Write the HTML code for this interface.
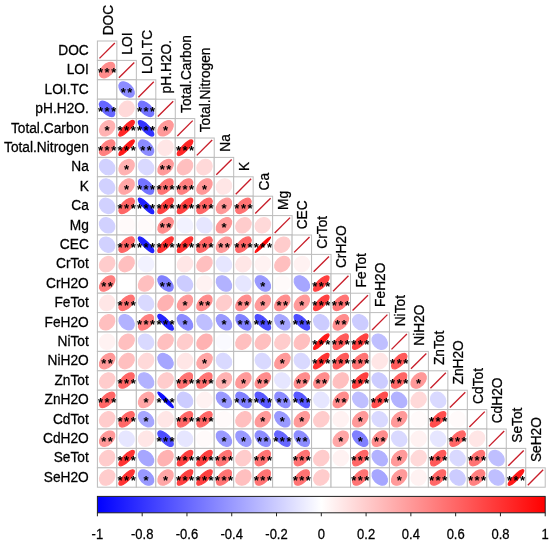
<!DOCTYPE html><html><head><meta charset="utf-8"><style>html,body{margin:0;padding:0;background:#fff;width:550px;height:545px;overflow:hidden}svg{display:block;filter:blur(0.35px)}text{font-family:"Liberation Sans",Arial,sans-serif}</style></head><body>
<svg width="550" height="545" viewBox="0 0 550 545">
<rect width="550" height="545" fill="#fff"/>
<g fill="#fff" stroke="#bcbcbc" stroke-width="1"><rect x="97.40" y="41.00" width="19.47" height="19.40"/><rect x="97.40" y="60.40" width="19.47" height="19.40"/><rect x="116.87" y="60.40" width="19.47" height="19.40"/><rect x="97.40" y="79.80" width="19.47" height="19.40"/><rect x="116.87" y="79.80" width="19.47" height="19.40"/><rect x="136.34" y="79.80" width="19.47" height="19.40"/><rect x="97.40" y="99.20" width="19.47" height="19.40"/><rect x="116.87" y="99.20" width="19.47" height="19.40"/><rect x="136.34" y="99.20" width="19.47" height="19.40"/><rect x="155.81" y="99.20" width="19.47" height="19.40"/><rect x="97.40" y="118.60" width="19.47" height="19.40"/><rect x="116.87" y="118.60" width="19.47" height="19.40"/><rect x="136.34" y="118.60" width="19.47" height="19.40"/><rect x="155.81" y="118.60" width="19.47" height="19.40"/><rect x="175.28" y="118.60" width="19.47" height="19.40"/><rect x="97.40" y="138.00" width="19.47" height="19.40"/><rect x="116.87" y="138.00" width="19.47" height="19.40"/><rect x="136.34" y="138.00" width="19.47" height="19.40"/><rect x="155.81" y="138.00" width="19.47" height="19.40"/><rect x="175.28" y="138.00" width="19.47" height="19.40"/><rect x="194.75" y="138.00" width="19.47" height="19.40"/><rect x="97.40" y="157.40" width="19.47" height="19.40"/><rect x="116.87" y="157.40" width="19.47" height="19.40"/><rect x="136.34" y="157.40" width="19.47" height="19.40"/><rect x="155.81" y="157.40" width="19.47" height="19.40"/><rect x="175.28" y="157.40" width="19.47" height="19.40"/><rect x="194.75" y="157.40" width="19.47" height="19.40"/><rect x="214.22" y="157.40" width="19.47" height="19.40"/><rect x="97.40" y="176.80" width="19.47" height="19.40"/><rect x="116.87" y="176.80" width="19.47" height="19.40"/><rect x="136.34" y="176.80" width="19.47" height="19.40"/><rect x="155.81" y="176.80" width="19.47" height="19.40"/><rect x="175.28" y="176.80" width="19.47" height="19.40"/><rect x="194.75" y="176.80" width="19.47" height="19.40"/><rect x="214.22" y="176.80" width="19.47" height="19.40"/><rect x="233.69" y="176.80" width="19.47" height="19.40"/><rect x="97.40" y="196.20" width="19.47" height="19.40"/><rect x="116.87" y="196.20" width="19.47" height="19.40"/><rect x="136.34" y="196.20" width="19.47" height="19.40"/><rect x="155.81" y="196.20" width="19.47" height="19.40"/><rect x="175.28" y="196.20" width="19.47" height="19.40"/><rect x="194.75" y="196.20" width="19.47" height="19.40"/><rect x="214.22" y="196.20" width="19.47" height="19.40"/><rect x="233.69" y="196.20" width="19.47" height="19.40"/><rect x="253.16" y="196.20" width="19.47" height="19.40"/><rect x="97.40" y="215.60" width="19.47" height="19.40"/><rect x="116.87" y="215.60" width="19.47" height="19.40"/><rect x="136.34" y="215.60" width="19.47" height="19.40"/><rect x="155.81" y="215.60" width="19.47" height="19.40"/><rect x="175.28" y="215.60" width="19.47" height="19.40"/><rect x="194.75" y="215.60" width="19.47" height="19.40"/><rect x="214.22" y="215.60" width="19.47" height="19.40"/><rect x="233.69" y="215.60" width="19.47" height="19.40"/><rect x="253.16" y="215.60" width="19.47" height="19.40"/><rect x="272.63" y="215.60" width="19.47" height="19.40"/><rect x="97.40" y="235.00" width="19.47" height="19.40"/><rect x="116.87" y="235.00" width="19.47" height="19.40"/><rect x="136.34" y="235.00" width="19.47" height="19.40"/><rect x="155.81" y="235.00" width="19.47" height="19.40"/><rect x="175.28" y="235.00" width="19.47" height="19.40"/><rect x="194.75" y="235.00" width="19.47" height="19.40"/><rect x="214.22" y="235.00" width="19.47" height="19.40"/><rect x="233.69" y="235.00" width="19.47" height="19.40"/><rect x="253.16" y="235.00" width="19.47" height="19.40"/><rect x="272.63" y="235.00" width="19.47" height="19.40"/><rect x="292.10" y="235.00" width="19.47" height="19.40"/><rect x="97.40" y="254.40" width="19.47" height="19.40"/><rect x="116.87" y="254.40" width="19.47" height="19.40"/><rect x="136.34" y="254.40" width="19.47" height="19.40"/><rect x="155.81" y="254.40" width="19.47" height="19.40"/><rect x="175.28" y="254.40" width="19.47" height="19.40"/><rect x="194.75" y="254.40" width="19.47" height="19.40"/><rect x="214.22" y="254.40" width="19.47" height="19.40"/><rect x="233.69" y="254.40" width="19.47" height="19.40"/><rect x="253.16" y="254.40" width="19.47" height="19.40"/><rect x="272.63" y="254.40" width="19.47" height="19.40"/><rect x="292.10" y="254.40" width="19.47" height="19.40"/><rect x="311.57" y="254.40" width="19.47" height="19.40"/><rect x="97.40" y="273.80" width="19.47" height="19.40"/><rect x="116.87" y="273.80" width="19.47" height="19.40"/><rect x="136.34" y="273.80" width="19.47" height="19.40"/><rect x="155.81" y="273.80" width="19.47" height="19.40"/><rect x="175.28" y="273.80" width="19.47" height="19.40"/><rect x="194.75" y="273.80" width="19.47" height="19.40"/><rect x="214.22" y="273.80" width="19.47" height="19.40"/><rect x="233.69" y="273.80" width="19.47" height="19.40"/><rect x="253.16" y="273.80" width="19.47" height="19.40"/><rect x="272.63" y="273.80" width="19.47" height="19.40"/><rect x="292.10" y="273.80" width="19.47" height="19.40"/><rect x="311.57" y="273.80" width="19.47" height="19.40"/><rect x="331.04" y="273.80" width="19.47" height="19.40"/><rect x="97.40" y="293.20" width="19.47" height="19.40"/><rect x="116.87" y="293.20" width="19.47" height="19.40"/><rect x="136.34" y="293.20" width="19.47" height="19.40"/><rect x="155.81" y="293.20" width="19.47" height="19.40"/><rect x="175.28" y="293.20" width="19.47" height="19.40"/><rect x="194.75" y="293.20" width="19.47" height="19.40"/><rect x="214.22" y="293.20" width="19.47" height="19.40"/><rect x="233.69" y="293.20" width="19.47" height="19.40"/><rect x="253.16" y="293.20" width="19.47" height="19.40"/><rect x="272.63" y="293.20" width="19.47" height="19.40"/><rect x="292.10" y="293.20" width="19.47" height="19.40"/><rect x="311.57" y="293.20" width="19.47" height="19.40"/><rect x="331.04" y="293.20" width="19.47" height="19.40"/><rect x="350.51" y="293.20" width="19.47" height="19.40"/><rect x="97.40" y="312.60" width="19.47" height="19.40"/><rect x="116.87" y="312.60" width="19.47" height="19.40"/><rect x="136.34" y="312.60" width="19.47" height="19.40"/><rect x="155.81" y="312.60" width="19.47" height="19.40"/><rect x="175.28" y="312.60" width="19.47" height="19.40"/><rect x="194.75" y="312.60" width="19.47" height="19.40"/><rect x="214.22" y="312.60" width="19.47" height="19.40"/><rect x="233.69" y="312.60" width="19.47" height="19.40"/><rect x="253.16" y="312.60" width="19.47" height="19.40"/><rect x="272.63" y="312.60" width="19.47" height="19.40"/><rect x="292.10" y="312.60" width="19.47" height="19.40"/><rect x="311.57" y="312.60" width="19.47" height="19.40"/><rect x="331.04" y="312.60" width="19.47" height="19.40"/><rect x="350.51" y="312.60" width="19.47" height="19.40"/><rect x="369.98" y="312.60" width="19.47" height="19.40"/><rect x="97.40" y="332.00" width="19.47" height="19.40"/><rect x="116.87" y="332.00" width="19.47" height="19.40"/><rect x="136.34" y="332.00" width="19.47" height="19.40"/><rect x="155.81" y="332.00" width="19.47" height="19.40"/><rect x="175.28" y="332.00" width="19.47" height="19.40"/><rect x="194.75" y="332.00" width="19.47" height="19.40"/><rect x="214.22" y="332.00" width="19.47" height="19.40"/><rect x="233.69" y="332.00" width="19.47" height="19.40"/><rect x="253.16" y="332.00" width="19.47" height="19.40"/><rect x="272.63" y="332.00" width="19.47" height="19.40"/><rect x="292.10" y="332.00" width="19.47" height="19.40"/><rect x="311.57" y="332.00" width="19.47" height="19.40"/><rect x="331.04" y="332.00" width="19.47" height="19.40"/><rect x="350.51" y="332.00" width="19.47" height="19.40"/><rect x="369.98" y="332.00" width="19.47" height="19.40"/><rect x="389.45" y="332.00" width="19.47" height="19.40"/><rect x="97.40" y="351.40" width="19.47" height="19.40"/><rect x="116.87" y="351.40" width="19.47" height="19.40"/><rect x="136.34" y="351.40" width="19.47" height="19.40"/><rect x="155.81" y="351.40" width="19.47" height="19.40"/><rect x="175.28" y="351.40" width="19.47" height="19.40"/><rect x="194.75" y="351.40" width="19.47" height="19.40"/><rect x="214.22" y="351.40" width="19.47" height="19.40"/><rect x="233.69" y="351.40" width="19.47" height="19.40"/><rect x="253.16" y="351.40" width="19.47" height="19.40"/><rect x="272.63" y="351.40" width="19.47" height="19.40"/><rect x="292.10" y="351.40" width="19.47" height="19.40"/><rect x="311.57" y="351.40" width="19.47" height="19.40"/><rect x="331.04" y="351.40" width="19.47" height="19.40"/><rect x="350.51" y="351.40" width="19.47" height="19.40"/><rect x="369.98" y="351.40" width="19.47" height="19.40"/><rect x="389.45" y="351.40" width="19.47" height="19.40"/><rect x="408.92" y="351.40" width="19.47" height="19.40"/><rect x="97.40" y="370.80" width="19.47" height="19.40"/><rect x="116.87" y="370.80" width="19.47" height="19.40"/><rect x="136.34" y="370.80" width="19.47" height="19.40"/><rect x="155.81" y="370.80" width="19.47" height="19.40"/><rect x="175.28" y="370.80" width="19.47" height="19.40"/><rect x="194.75" y="370.80" width="19.47" height="19.40"/><rect x="214.22" y="370.80" width="19.47" height="19.40"/><rect x="233.69" y="370.80" width="19.47" height="19.40"/><rect x="253.16" y="370.80" width="19.47" height="19.40"/><rect x="272.63" y="370.80" width="19.47" height="19.40"/><rect x="292.10" y="370.80" width="19.47" height="19.40"/><rect x="311.57" y="370.80" width="19.47" height="19.40"/><rect x="331.04" y="370.80" width="19.47" height="19.40"/><rect x="350.51" y="370.80" width="19.47" height="19.40"/><rect x="369.98" y="370.80" width="19.47" height="19.40"/><rect x="389.45" y="370.80" width="19.47" height="19.40"/><rect x="408.92" y="370.80" width="19.47" height="19.40"/><rect x="428.39" y="370.80" width="19.47" height="19.40"/><rect x="97.40" y="390.20" width="19.47" height="19.40"/><rect x="116.87" y="390.20" width="19.47" height="19.40"/><rect x="136.34" y="390.20" width="19.47" height="19.40"/><rect x="155.81" y="390.20" width="19.47" height="19.40"/><rect x="175.28" y="390.20" width="19.47" height="19.40"/><rect x="194.75" y="390.20" width="19.47" height="19.40"/><rect x="214.22" y="390.20" width="19.47" height="19.40"/><rect x="233.69" y="390.20" width="19.47" height="19.40"/><rect x="253.16" y="390.20" width="19.47" height="19.40"/><rect x="272.63" y="390.20" width="19.47" height="19.40"/><rect x="292.10" y="390.20" width="19.47" height="19.40"/><rect x="311.57" y="390.20" width="19.47" height="19.40"/><rect x="331.04" y="390.20" width="19.47" height="19.40"/><rect x="350.51" y="390.20" width="19.47" height="19.40"/><rect x="369.98" y="390.20" width="19.47" height="19.40"/><rect x="389.45" y="390.20" width="19.47" height="19.40"/><rect x="408.92" y="390.20" width="19.47" height="19.40"/><rect x="428.39" y="390.20" width="19.47" height="19.40"/><rect x="447.86" y="390.20" width="19.47" height="19.40"/><rect x="97.40" y="409.60" width="19.47" height="19.40"/><rect x="116.87" y="409.60" width="19.47" height="19.40"/><rect x="136.34" y="409.60" width="19.47" height="19.40"/><rect x="155.81" y="409.60" width="19.47" height="19.40"/><rect x="175.28" y="409.60" width="19.47" height="19.40"/><rect x="194.75" y="409.60" width="19.47" height="19.40"/><rect x="214.22" y="409.60" width="19.47" height="19.40"/><rect x="233.69" y="409.60" width="19.47" height="19.40"/><rect x="253.16" y="409.60" width="19.47" height="19.40"/><rect x="272.63" y="409.60" width="19.47" height="19.40"/><rect x="292.10" y="409.60" width="19.47" height="19.40"/><rect x="311.57" y="409.60" width="19.47" height="19.40"/><rect x="331.04" y="409.60" width="19.47" height="19.40"/><rect x="350.51" y="409.60" width="19.47" height="19.40"/><rect x="369.98" y="409.60" width="19.47" height="19.40"/><rect x="389.45" y="409.60" width="19.47" height="19.40"/><rect x="408.92" y="409.60" width="19.47" height="19.40"/><rect x="428.39" y="409.60" width="19.47" height="19.40"/><rect x="447.86" y="409.60" width="19.47" height="19.40"/><rect x="467.33" y="409.60" width="19.47" height="19.40"/><rect x="97.40" y="429.00" width="19.47" height="19.40"/><rect x="116.87" y="429.00" width="19.47" height="19.40"/><rect x="136.34" y="429.00" width="19.47" height="19.40"/><rect x="155.81" y="429.00" width="19.47" height="19.40"/><rect x="175.28" y="429.00" width="19.47" height="19.40"/><rect x="194.75" y="429.00" width="19.47" height="19.40"/><rect x="214.22" y="429.00" width="19.47" height="19.40"/><rect x="233.69" y="429.00" width="19.47" height="19.40"/><rect x="253.16" y="429.00" width="19.47" height="19.40"/><rect x="272.63" y="429.00" width="19.47" height="19.40"/><rect x="292.10" y="429.00" width="19.47" height="19.40"/><rect x="311.57" y="429.00" width="19.47" height="19.40"/><rect x="331.04" y="429.00" width="19.47" height="19.40"/><rect x="350.51" y="429.00" width="19.47" height="19.40"/><rect x="369.98" y="429.00" width="19.47" height="19.40"/><rect x="389.45" y="429.00" width="19.47" height="19.40"/><rect x="408.92" y="429.00" width="19.47" height="19.40"/><rect x="428.39" y="429.00" width="19.47" height="19.40"/><rect x="447.86" y="429.00" width="19.47" height="19.40"/><rect x="467.33" y="429.00" width="19.47" height="19.40"/><rect x="486.80" y="429.00" width="19.47" height="19.40"/><rect x="97.40" y="448.40" width="19.47" height="19.40"/><rect x="116.87" y="448.40" width="19.47" height="19.40"/><rect x="136.34" y="448.40" width="19.47" height="19.40"/><rect x="155.81" y="448.40" width="19.47" height="19.40"/><rect x="175.28" y="448.40" width="19.47" height="19.40"/><rect x="194.75" y="448.40" width="19.47" height="19.40"/><rect x="214.22" y="448.40" width="19.47" height="19.40"/><rect x="233.69" y="448.40" width="19.47" height="19.40"/><rect x="253.16" y="448.40" width="19.47" height="19.40"/><rect x="272.63" y="448.40" width="19.47" height="19.40"/><rect x="292.10" y="448.40" width="19.47" height="19.40"/><rect x="311.57" y="448.40" width="19.47" height="19.40"/><rect x="331.04" y="448.40" width="19.47" height="19.40"/><rect x="350.51" y="448.40" width="19.47" height="19.40"/><rect x="369.98" y="448.40" width="19.47" height="19.40"/><rect x="389.45" y="448.40" width="19.47" height="19.40"/><rect x="408.92" y="448.40" width="19.47" height="19.40"/><rect x="428.39" y="448.40" width="19.47" height="19.40"/><rect x="447.86" y="448.40" width="19.47" height="19.40"/><rect x="467.33" y="448.40" width="19.47" height="19.40"/><rect x="486.80" y="448.40" width="19.47" height="19.40"/><rect x="506.27" y="448.40" width="19.47" height="19.40"/><rect x="97.40" y="467.80" width="19.47" height="19.40"/><rect x="116.87" y="467.80" width="19.47" height="19.40"/><rect x="136.34" y="467.80" width="19.47" height="19.40"/><rect x="155.81" y="467.80" width="19.47" height="19.40"/><rect x="175.28" y="467.80" width="19.47" height="19.40"/><rect x="194.75" y="467.80" width="19.47" height="19.40"/><rect x="214.22" y="467.80" width="19.47" height="19.40"/><rect x="233.69" y="467.80" width="19.47" height="19.40"/><rect x="253.16" y="467.80" width="19.47" height="19.40"/><rect x="272.63" y="467.80" width="19.47" height="19.40"/><rect x="292.10" y="467.80" width="19.47" height="19.40"/><rect x="311.57" y="467.80" width="19.47" height="19.40"/><rect x="331.04" y="467.80" width="19.47" height="19.40"/><rect x="350.51" y="467.80" width="19.47" height="19.40"/><rect x="369.98" y="467.80" width="19.47" height="19.40"/><rect x="389.45" y="467.80" width="19.47" height="19.40"/><rect x="408.92" y="467.80" width="19.47" height="19.40"/><rect x="428.39" y="467.80" width="19.47" height="19.40"/><rect x="447.86" y="467.80" width="19.47" height="19.40"/><rect x="467.33" y="467.80" width="19.47" height="19.40"/><rect x="486.80" y="467.80" width="19.47" height="19.40"/><rect x="506.27" y="467.80" width="19.47" height="19.40"/><rect x="525.74" y="467.80" width="19.47" height="19.40"/></g>
<g stroke-width="1.25"><line x1="99.44" y1="58.37" x2="114.83" y2="43.03" stroke="#c81e2a" stroke-width="1.35"/><ellipse cx="107.14" cy="70.10" rx="9.25" ry="5.70" transform="rotate(-45 107.14 70.10)" fill="#ff8c8c" stroke="#ff8c8c"/><line x1="118.91" y1="77.77" x2="134.30" y2="62.43" stroke="#c81e2a" stroke-width="1.35"/><ellipse cx="107.14" cy="89.50" rx="7.68" ry="7.68" transform="rotate(-45 107.14 89.50)" fill="#ffffff" stroke="#ffffff"/><ellipse cx="126.61" cy="89.50" rx="5.70" ry="9.25" transform="rotate(-45 126.61 89.50)" fill="#8c8cff" stroke="#8c8cff"/><line x1="138.38" y1="97.17" x2="153.77" y2="81.83" stroke="#c81e2a" stroke-width="1.35"/><ellipse cx="107.14" cy="108.90" rx="4.86" ry="9.72" transform="rotate(-45 107.14 108.90)" fill="#6666ff" stroke="#6666ff"/><ellipse cx="126.61" cy="108.90" rx="8.24" ry="7.08" transform="rotate(-45 126.61 108.90)" fill="#ffd9d9" stroke="#ffd9d9"/><ellipse cx="146.07" cy="108.90" rx="5.15" ry="9.56" transform="rotate(-45 146.07 108.90)" fill="#7373ff" stroke="#7373ff"/><line x1="157.85" y1="116.57" x2="173.24" y2="101.23" stroke="#c81e2a" stroke-width="1.35"/><ellipse cx="107.14" cy="128.30" rx="8.76" ry="6.43" transform="rotate(-45 107.14 128.30)" fill="#ffb2b2" stroke="#ffb2b2"/><ellipse cx="126.61" cy="128.30" rx="10.45" ry="2.98" transform="rotate(-45 126.61 128.30)" fill="#ff2626" stroke="#ff2626"/><ellipse cx="146.07" cy="128.30" rx="3.44" ry="10.31" transform="rotate(-45 146.07 128.30)" fill="#3333ff" stroke="#3333ff"/><ellipse cx="165.55" cy="128.30" rx="9.09" ry="5.95" transform="rotate(-45 165.55 128.30)" fill="#ff9999" stroke="#ff9999"/><line x1="177.32" y1="135.97" x2="192.71" y2="120.63" stroke="#c81e2a" stroke-width="1.35"/><ellipse cx="107.14" cy="147.70" rx="9.41" ry="5.43" transform="rotate(-45 107.14 147.70)" fill="#ff8080" stroke="#ff8080"/><ellipse cx="126.61" cy="147.70" rx="10.59" ry="2.43" transform="rotate(-45 126.61 147.70)" fill="#ff1919" stroke="#ff1919"/><ellipse cx="146.07" cy="147.70" rx="5.70" ry="9.25" transform="rotate(-45 146.07 147.70)" fill="#8c8cff" stroke="#8c8cff"/><ellipse cx="165.55" cy="147.70" rx="8.06" ry="7.29" transform="rotate(-45 165.55 147.70)" fill="#ffe6e6" stroke="#ffe6e6"/><ellipse cx="185.01" cy="147.70" rx="10.45" ry="2.98" transform="rotate(-45 185.01 147.70)" fill="#ff2626" stroke="#ff2626"/><line x1="196.79" y1="155.37" x2="212.18" y2="140.03" stroke="#c81e2a" stroke-width="1.35"/><ellipse cx="107.14" cy="167.10" rx="6.96" ry="8.34" transform="rotate(-45 107.14 167.10)" fill="#d1d1ff" stroke="#d1d1ff"/><ellipse cx="126.61" cy="167.10" rx="8.76" ry="6.43" transform="rotate(-45 126.61 167.10)" fill="#ffb2b2" stroke="#ffb2b2"/><ellipse cx="146.07" cy="167.10" rx="7.08" ry="8.24" transform="rotate(-45 146.07 167.10)" fill="#d9d9ff" stroke="#d9d9ff"/><ellipse cx="165.55" cy="167.10" rx="9.09" ry="5.95" transform="rotate(-45 165.55 167.10)" fill="#ff9999" stroke="#ff9999"/><ellipse cx="185.01" cy="167.10" rx="8.59" ry="6.65" transform="rotate(-45 185.01 167.10)" fill="#ffbfbf" stroke="#ffbfbf"/><ellipse cx="204.49" cy="167.10" rx="8.24" ry="7.08" transform="rotate(-45 204.49 167.10)" fill="#ffd9d9" stroke="#ffd9d9"/><line x1="216.26" y1="174.77" x2="231.65" y2="159.43" stroke="#c81e2a" stroke-width="1.35"/><ellipse cx="107.14" cy="186.50" rx="6.96" ry="8.34" transform="rotate(-45 107.14 186.50)" fill="#d1d1ff" stroke="#d1d1ff"/><ellipse cx="126.61" cy="186.50" rx="8.93" ry="6.19" transform="rotate(-45 126.61 186.50)" fill="#ffa6a6" stroke="#ffa6a6"/><ellipse cx="146.07" cy="186.50" rx="5.15" ry="9.56" transform="rotate(-45 146.07 186.50)" fill="#7373ff" stroke="#7373ff"/><ellipse cx="165.55" cy="186.50" rx="9.56" ry="5.15" transform="rotate(-45 165.55 186.50)" fill="#ff7373" stroke="#ff7373"/><ellipse cx="185.01" cy="186.50" rx="9.41" ry="5.43" transform="rotate(-45 185.01 186.50)" fill="#ff8080" stroke="#ff8080"/><ellipse cx="204.49" cy="186.50" rx="9.09" ry="5.95" transform="rotate(-45 204.49 186.50)" fill="#ff9999" stroke="#ff9999"/><ellipse cx="223.95" cy="186.50" rx="8.06" ry="7.29" transform="rotate(-45 223.95 186.50)" fill="#ffe6e6" stroke="#ffe6e6"/><line x1="235.73" y1="194.17" x2="251.12" y2="178.83" stroke="#c81e2a" stroke-width="1.35"/><ellipse cx="107.14" cy="205.90" rx="6.96" ry="8.34" transform="rotate(-45 107.14 205.90)" fill="#d1d1ff" stroke="#d1d1ff"/><ellipse cx="126.61" cy="205.90" rx="9.72" ry="4.86" transform="rotate(-45 126.61 205.90)" fill="#ff6666" stroke="#ff6666"/><ellipse cx="146.07" cy="205.90" rx="2.77" ry="10.50" transform="rotate(-45 146.07 205.90)" fill="#2121ff" stroke="#2121ff"/><ellipse cx="165.55" cy="205.90" rx="10.16" ry="3.84" transform="rotate(-45 165.55 205.90)" fill="#ff4040" stroke="#ff4040"/><ellipse cx="185.01" cy="205.90" rx="10.16" ry="3.84" transform="rotate(-45 185.01 205.90)" fill="#ff4040" stroke="#ff4040"/><ellipse cx="204.49" cy="205.90" rx="9.72" ry="4.86" transform="rotate(-45 204.49 205.90)" fill="#ff6666" stroke="#ff6666"/><ellipse cx="223.95" cy="205.90" rx="9.09" ry="5.95" transform="rotate(-45 223.95 205.90)" fill="#ff9999" stroke="#ff9999"/><ellipse cx="243.43" cy="205.90" rx="9.56" ry="5.15" transform="rotate(-45 243.43 205.90)" fill="#ff7373" stroke="#ff7373"/><line x1="255.20" y1="213.57" x2="270.59" y2="198.23" stroke="#c81e2a" stroke-width="1.35"/><ellipse cx="107.14" cy="225.30" rx="6.96" ry="8.34" transform="rotate(-45 107.14 225.30)" fill="#d1d1ff" stroke="#d1d1ff"/><ellipse cx="126.61" cy="225.30" rx="7.76" ry="7.60" transform="rotate(-45 126.61 225.30)" fill="#fffafa" stroke="#fffafa"/><ellipse cx="146.07" cy="225.30" rx="7.76" ry="7.60" transform="rotate(-45 146.07 225.30)" fill="#fffafa" stroke="#fffafa"/><ellipse cx="165.55" cy="225.30" rx="9.25" ry="5.70" transform="rotate(-45 165.55 225.30)" fill="#ff8c8c" stroke="#ff8c8c"/><ellipse cx="185.01" cy="225.30" rx="7.49" ry="7.87" transform="rotate(-45 185.01 225.30)" fill="#f2f2ff" stroke="#f2f2ff"/><ellipse cx="204.49" cy="225.30" rx="7.29" ry="8.06" transform="rotate(-45 204.49 225.30)" fill="#e6e6ff" stroke="#e6e6ff"/><ellipse cx="223.95" cy="225.30" rx="9.09" ry="5.95" transform="rotate(-45 223.95 225.30)" fill="#ff9999" stroke="#ff9999"/><ellipse cx="243.43" cy="225.30" rx="8.41" ry="6.87" transform="rotate(-45 243.43 225.30)" fill="#ffcccc" stroke="#ffcccc"/><ellipse cx="262.89" cy="225.30" rx="8.24" ry="7.08" transform="rotate(-45 262.89 225.30)" fill="#ffd9d9" stroke="#ffd9d9"/><line x1="274.67" y1="232.97" x2="290.06" y2="217.63" stroke="#c81e2a" stroke-width="1.35"/><ellipse cx="107.14" cy="244.70" rx="6.96" ry="8.34" transform="rotate(-45 107.14 244.70)" fill="#d1d1ff" stroke="#d1d1ff"/><ellipse cx="126.61" cy="244.70" rx="9.72" ry="4.86" transform="rotate(-45 126.61 244.70)" fill="#ff6666" stroke="#ff6666"/><ellipse cx="146.07" cy="244.70" rx="2.77" ry="10.50" transform="rotate(-45 146.07 244.70)" fill="#2121ff" stroke="#2121ff"/><ellipse cx="165.55" cy="244.70" rx="10.31" ry="3.44" transform="rotate(-45 165.55 244.70)" fill="#ff3333" stroke="#ff3333"/><ellipse cx="185.01" cy="244.70" rx="10.31" ry="3.44" transform="rotate(-45 185.01 244.70)" fill="#ff3333" stroke="#ff3333"/><ellipse cx="204.49" cy="244.70" rx="9.72" ry="4.86" transform="rotate(-45 204.49 244.70)" fill="#ff6666" stroke="#ff6666"/><ellipse cx="223.95" cy="244.70" rx="9.09" ry="5.95" transform="rotate(-45 223.95 244.70)" fill="#ff9999" stroke="#ff9999"/><ellipse cx="243.43" cy="244.70" rx="9.72" ry="4.86" transform="rotate(-45 243.43 244.70)" fill="#ff6666" stroke="#ff6666"/><ellipse cx="262.89" cy="244.70" rx="10.78" ry="1.33" transform="rotate(-45 262.89 244.70)" fill="#ff0808" stroke="#ff0808"/><ellipse cx="282.37" cy="244.70" rx="8.41" ry="6.87" transform="rotate(-45 282.37 244.70)" fill="#ffcccc" stroke="#ffcccc"/><line x1="294.14" y1="252.37" x2="309.53" y2="237.03" stroke="#c81e2a" stroke-width="1.35"/><ellipse cx="107.14" cy="264.10" rx="8.41" ry="6.87" transform="rotate(-45 107.14 264.10)" fill="#ffcccc" stroke="#ffcccc"/><ellipse cx="126.61" cy="264.10" rx="8.59" ry="6.65" transform="rotate(-45 126.61 264.10)" fill="#ffbfbf" stroke="#ffbfbf"/><ellipse cx="146.07" cy="264.10" rx="7.49" ry="7.87" transform="rotate(-45 146.07 264.10)" fill="#f2f2ff" stroke="#f2f2ff"/><ellipse cx="165.55" cy="264.10" rx="7.68" ry="7.68" transform="rotate(-45 165.55 264.10)" fill="#ffffff" stroke="#ffffff"/><ellipse cx="185.01" cy="264.10" rx="8.06" ry="7.29" transform="rotate(-45 185.01 264.10)" fill="#ffe6e6" stroke="#ffe6e6"/><ellipse cx="204.49" cy="264.10" rx="8.59" ry="6.65" transform="rotate(-45 204.49 264.10)" fill="#ffbfbf" stroke="#ffbfbf"/><ellipse cx="223.95" cy="264.10" rx="7.29" ry="8.06" transform="rotate(-45 223.95 264.10)" fill="#e6e6ff" stroke="#e6e6ff"/><ellipse cx="243.43" cy="264.10" rx="8.06" ry="7.29" transform="rotate(-45 243.43 264.10)" fill="#ffe6e6" stroke="#ffe6e6"/><ellipse cx="262.89" cy="264.10" rx="7.87" ry="7.49" transform="rotate(-45 262.89 264.10)" fill="#fff2f2" stroke="#fff2f2"/><ellipse cx="282.37" cy="264.10" rx="8.59" ry="6.65" transform="rotate(-45 282.37 264.10)" fill="#ffbfbf" stroke="#ffbfbf"/><ellipse cx="301.84" cy="264.10" rx="7.87" ry="7.49" transform="rotate(-45 301.84 264.10)" fill="#fff2f2" stroke="#fff2f2"/><line x1="313.61" y1="271.77" x2="329.00" y2="256.43" stroke="#c81e2a" stroke-width="1.35"/><ellipse cx="107.14" cy="283.50" rx="9.41" ry="5.43" transform="rotate(-45 107.14 283.50)" fill="#ff8080" stroke="#ff8080"/><ellipse cx="126.61" cy="283.50" rx="7.68" ry="7.68" transform="rotate(-45 126.61 283.50)" fill="#ffffff" stroke="#ffffff"/><ellipse cx="146.07" cy="283.50" rx="8.59" ry="6.65" transform="rotate(-45 146.07 283.50)" fill="#ffbfbf" stroke="#ffbfbf"/><ellipse cx="165.55" cy="283.50" rx="5.43" ry="9.41" transform="rotate(-45 165.55 283.50)" fill="#8080ff" stroke="#8080ff"/><ellipse cx="185.01" cy="283.50" rx="6.87" ry="8.41" transform="rotate(-45 185.01 283.50)" fill="#ccccff" stroke="#ccccff"/><ellipse cx="204.49" cy="283.50" rx="7.87" ry="7.49" transform="rotate(-45 204.49 283.50)" fill="#fff2f2" stroke="#fff2f2"/><ellipse cx="223.95" cy="283.50" rx="6.43" ry="8.76" transform="rotate(-45 223.95 283.50)" fill="#b2b2ff" stroke="#b2b2ff"/><ellipse cx="243.43" cy="283.50" rx="7.29" ry="8.06" transform="rotate(-45 243.43 283.50)" fill="#e6e6ff" stroke="#e6e6ff"/><ellipse cx="262.89" cy="283.50" rx="5.95" ry="9.09" transform="rotate(-45 262.89 283.50)" fill="#9999ff" stroke="#9999ff"/><ellipse cx="282.37" cy="283.50" rx="7.76" ry="7.60" transform="rotate(-45 282.37 283.50)" fill="#fffafa" stroke="#fffafa"/><ellipse cx="301.84" cy="283.50" rx="6.19" ry="8.93" transform="rotate(-45 301.84 283.50)" fill="#a6a6ff" stroke="#a6a6ff"/><ellipse cx="321.31" cy="283.50" rx="10.16" ry="3.84" transform="rotate(-45 321.31 283.50)" fill="#ff4040" stroke="#ff4040"/><line x1="333.08" y1="291.17" x2="348.47" y2="275.83" stroke="#c81e2a" stroke-width="1.35"/><ellipse cx="107.14" cy="302.90" rx="8.06" ry="7.29" transform="rotate(-45 107.14 302.90)" fill="#ffe6e6" stroke="#ffe6e6"/><ellipse cx="126.61" cy="302.90" rx="9.56" ry="5.15" transform="rotate(-45 126.61 302.90)" fill="#ff7373" stroke="#ff7373"/><ellipse cx="146.07" cy="302.90" rx="7.08" ry="8.24" transform="rotate(-45 146.07 302.90)" fill="#d9d9ff" stroke="#d9d9ff"/><ellipse cx="165.55" cy="302.90" rx="8.76" ry="6.43" transform="rotate(-45 165.55 302.90)" fill="#ffb2b2" stroke="#ffb2b2"/><ellipse cx="185.01" cy="302.90" rx="9.09" ry="5.95" transform="rotate(-45 185.01 302.90)" fill="#ff9999" stroke="#ff9999"/><ellipse cx="204.49" cy="302.90" rx="9.25" ry="5.70" transform="rotate(-45 204.49 302.90)" fill="#ff8c8c" stroke="#ff8c8c"/><ellipse cx="223.95" cy="302.90" rx="8.41" ry="6.87" transform="rotate(-45 223.95 302.90)" fill="#ffcccc" stroke="#ffcccc"/><ellipse cx="243.43" cy="302.90" rx="9.25" ry="5.70" transform="rotate(-45 243.43 302.90)" fill="#ff8c8c" stroke="#ff8c8c"/><ellipse cx="262.89" cy="302.90" rx="9.09" ry="5.95" transform="rotate(-45 262.89 302.90)" fill="#ff9999" stroke="#ff9999"/><ellipse cx="282.37" cy="302.90" rx="9.25" ry="5.70" transform="rotate(-45 282.37 302.90)" fill="#ff8c8c" stroke="#ff8c8c"/><ellipse cx="301.84" cy="302.90" rx="9.09" ry="5.95" transform="rotate(-45 301.84 302.90)" fill="#ff9999" stroke="#ff9999"/><ellipse cx="321.31" cy="302.90" rx="10.16" ry="3.84" transform="rotate(-45 321.31 302.90)" fill="#ff4040" stroke="#ff4040"/><ellipse cx="340.77" cy="302.90" rx="9.56" ry="5.15" transform="rotate(-45 340.77 302.90)" fill="#ff7373" stroke="#ff7373"/><line x1="352.55" y1="310.57" x2="367.94" y2="295.23" stroke="#c81e2a" stroke-width="1.35"/><ellipse cx="107.14" cy="322.30" rx="8.59" ry="6.65" transform="rotate(-45 107.14 322.30)" fill="#ffbfbf" stroke="#ffbfbf"/><ellipse cx="126.61" cy="322.30" rx="6.43" ry="8.76" transform="rotate(-45 126.61 322.30)" fill="#b2b2ff" stroke="#b2b2ff"/><ellipse cx="146.07" cy="322.30" rx="9.41" ry="5.43" transform="rotate(-45 146.07 322.30)" fill="#ff8080" stroke="#ff8080"/><ellipse cx="165.55" cy="322.30" rx="2.98" ry="10.45" transform="rotate(-45 165.55 322.30)" fill="#2626ff" stroke="#2626ff"/><ellipse cx="185.01" cy="322.30" rx="5.70" ry="9.25" transform="rotate(-45 185.01 322.30)" fill="#8c8cff" stroke="#8c8cff"/><ellipse cx="204.49" cy="322.30" rx="6.65" ry="8.59" transform="rotate(-45 204.49 322.30)" fill="#bfbfff" stroke="#bfbfff"/><ellipse cx="223.95" cy="322.30" rx="5.95" ry="9.09" transform="rotate(-45 223.95 322.30)" fill="#9999ff" stroke="#9999ff"/><ellipse cx="243.43" cy="322.30" rx="5.43" ry="9.41" transform="rotate(-45 243.43 322.30)" fill="#8080ff" stroke="#8080ff"/><ellipse cx="262.89" cy="322.30" rx="4.21" ry="10.02" transform="rotate(-45 262.89 322.30)" fill="#4d4dff" stroke="#4d4dff"/><ellipse cx="282.37" cy="322.30" rx="6.19" ry="8.93" transform="rotate(-45 282.37 322.30)" fill="#a6a6ff" stroke="#a6a6ff"/><ellipse cx="301.84" cy="322.30" rx="4.21" ry="10.02" transform="rotate(-45 301.84 322.30)" fill="#4d4dff" stroke="#4d4dff"/><ellipse cx="321.31" cy="322.30" rx="6.87" ry="8.41" transform="rotate(-45 321.31 322.30)" fill="#ccccff" stroke="#ccccff"/><ellipse cx="340.77" cy="322.30" rx="9.25" ry="5.70" transform="rotate(-45 340.77 322.30)" fill="#ff8c8c" stroke="#ff8c8c"/><ellipse cx="360.25" cy="322.30" rx="6.87" ry="8.41" transform="rotate(-45 360.25 322.30)" fill="#ccccff" stroke="#ccccff"/><line x1="372.02" y1="329.97" x2="387.41" y2="314.63" stroke="#c81e2a" stroke-width="1.35"/><ellipse cx="107.14" cy="341.70" rx="7.87" ry="7.49" transform="rotate(-45 107.14 341.70)" fill="#fff2f2" stroke="#fff2f2"/><ellipse cx="126.61" cy="341.70" rx="8.59" ry="6.65" transform="rotate(-45 126.61 341.70)" fill="#ffbfbf" stroke="#ffbfbf"/><ellipse cx="146.07" cy="341.70" rx="7.08" ry="8.24" transform="rotate(-45 146.07 341.70)" fill="#d9d9ff" stroke="#d9d9ff"/><ellipse cx="165.55" cy="341.70" rx="8.59" ry="6.65" transform="rotate(-45 165.55 341.70)" fill="#ffbfbf" stroke="#ffbfbf"/><ellipse cx="185.01" cy="341.70" rx="8.41" ry="6.87" transform="rotate(-45 185.01 341.70)" fill="#ffcccc" stroke="#ffcccc"/><ellipse cx="204.49" cy="341.70" rx="8.76" ry="6.43" transform="rotate(-45 204.49 341.70)" fill="#ffb2b2" stroke="#ffb2b2"/><ellipse cx="223.95" cy="341.70" rx="7.60" ry="7.76" transform="rotate(-45 223.95 341.70)" fill="#fafaff" stroke="#fafaff"/><ellipse cx="243.43" cy="341.70" rx="8.59" ry="6.65" transform="rotate(-45 243.43 341.70)" fill="#ffbfbf" stroke="#ffbfbf"/><ellipse cx="262.89" cy="341.70" rx="8.59" ry="6.65" transform="rotate(-45 262.89 341.70)" fill="#ffbfbf" stroke="#ffbfbf"/><ellipse cx="282.37" cy="341.70" rx="8.41" ry="6.87" transform="rotate(-45 282.37 341.70)" fill="#ffcccc" stroke="#ffcccc"/><ellipse cx="301.84" cy="341.70" rx="8.59" ry="6.65" transform="rotate(-45 301.84 341.70)" fill="#ffbfbf" stroke="#ffbfbf"/><ellipse cx="321.31" cy="341.70" rx="10.59" ry="2.43" transform="rotate(-45 321.31 341.70)" fill="#ff1919" stroke="#ff1919"/><ellipse cx="340.77" cy="341.70" rx="9.87" ry="4.54" transform="rotate(-45 340.77 341.70)" fill="#ff5959" stroke="#ff5959"/><ellipse cx="360.25" cy="341.70" rx="10.16" ry="3.84" transform="rotate(-45 360.25 341.70)" fill="#ff4040" stroke="#ff4040"/><ellipse cx="379.72" cy="341.70" rx="6.65" ry="8.59" transform="rotate(-45 379.72 341.70)" fill="#bfbfff" stroke="#bfbfff"/><line x1="391.49" y1="349.37" x2="406.88" y2="334.03" stroke="#c81e2a" stroke-width="1.35"/><ellipse cx="107.14" cy="361.10" rx="9.09" ry="5.95" transform="rotate(-45 107.14 361.10)" fill="#ff9999" stroke="#ff9999"/><ellipse cx="126.61" cy="361.10" rx="8.59" ry="6.65" transform="rotate(-45 126.61 361.10)" fill="#ffbfbf" stroke="#ffbfbf"/><ellipse cx="146.07" cy="361.10" rx="8.24" ry="7.08" transform="rotate(-45 146.07 361.10)" fill="#ffd9d9" stroke="#ffd9d9"/><ellipse cx="165.55" cy="361.10" rx="6.19" ry="8.93" transform="rotate(-45 165.55 361.10)" fill="#a6a6ff" stroke="#a6a6ff"/><ellipse cx="185.01" cy="361.10" rx="8.06" ry="7.29" transform="rotate(-45 185.01 361.10)" fill="#ffe6e6" stroke="#ffe6e6"/><ellipse cx="204.49" cy="361.10" rx="8.93" ry="6.19" transform="rotate(-45 204.49 361.10)" fill="#ffa6a6" stroke="#ffa6a6"/><ellipse cx="223.95" cy="361.10" rx="7.08" ry="8.24" transform="rotate(-45 223.95 361.10)" fill="#d9d9ff" stroke="#d9d9ff"/><ellipse cx="243.43" cy="361.10" rx="7.68" ry="7.68" transform="rotate(-45 243.43 361.10)" fill="#ffffff" stroke="#ffffff"/><ellipse cx="262.89" cy="361.10" rx="7.08" ry="8.24" transform="rotate(-45 262.89 361.10)" fill="#d9d9ff" stroke="#d9d9ff"/><ellipse cx="282.37" cy="361.10" rx="9.09" ry="5.95" transform="rotate(-45 282.37 361.10)" fill="#ff9999" stroke="#ff9999"/><ellipse cx="301.84" cy="361.10" rx="7.08" ry="8.24" transform="rotate(-45 301.84 361.10)" fill="#d9d9ff" stroke="#d9d9ff"/><ellipse cx="321.31" cy="361.10" rx="10.31" ry="3.44" transform="rotate(-45 321.31 361.10)" fill="#ff3333" stroke="#ff3333"/><ellipse cx="340.77" cy="361.10" rx="9.87" ry="4.54" transform="rotate(-45 340.77 361.10)" fill="#ff5959" stroke="#ff5959"/><ellipse cx="360.25" cy="361.10" rx="9.56" ry="5.15" transform="rotate(-45 360.25 361.10)" fill="#ff7373" stroke="#ff7373"/><ellipse cx="379.72" cy="361.10" rx="8.06" ry="7.29" transform="rotate(-45 379.72 361.10)" fill="#ffe6e6" stroke="#ffe6e6"/><ellipse cx="399.18" cy="361.10" rx="9.87" ry="4.54" transform="rotate(-45 399.18 361.10)" fill="#ff5959" stroke="#ff5959"/><line x1="410.96" y1="368.77" x2="426.35" y2="353.43" stroke="#c81e2a" stroke-width="1.35"/><ellipse cx="107.14" cy="380.50" rx="8.41" ry="6.87" transform="rotate(-45 107.14 380.50)" fill="#ffcccc" stroke="#ffcccc"/><ellipse cx="126.61" cy="380.50" rx="9.72" ry="4.86" transform="rotate(-45 126.61 380.50)" fill="#ff6666" stroke="#ff6666"/><ellipse cx="146.07" cy="380.50" rx="6.43" ry="8.76" transform="rotate(-45 146.07 380.50)" fill="#b2b2ff" stroke="#b2b2ff"/><ellipse cx="165.55" cy="380.50" rx="8.41" ry="6.87" transform="rotate(-45 165.55 380.50)" fill="#ffcccc" stroke="#ffcccc"/><ellipse cx="185.01" cy="380.50" rx="9.56" ry="5.15" transform="rotate(-45 185.01 380.50)" fill="#ff7373" stroke="#ff7373"/><ellipse cx="204.49" cy="380.50" rx="9.56" ry="5.15" transform="rotate(-45 204.49 380.50)" fill="#ff7373" stroke="#ff7373"/><ellipse cx="223.95" cy="380.50" rx="8.76" ry="6.43" transform="rotate(-45 223.95 380.50)" fill="#ffb2b2" stroke="#ffb2b2"/><ellipse cx="243.43" cy="380.50" rx="9.09" ry="5.95" transform="rotate(-45 243.43 380.50)" fill="#ff9999" stroke="#ff9999"/><ellipse cx="262.89" cy="380.50" rx="9.25" ry="5.70" transform="rotate(-45 262.89 380.50)" fill="#ff8c8c" stroke="#ff8c8c"/><ellipse cx="282.37" cy="380.50" rx="7.29" ry="8.06" transform="rotate(-45 282.37 380.50)" fill="#e6e6ff" stroke="#e6e6ff"/><ellipse cx="301.84" cy="380.50" rx="9.25" ry="5.70" transform="rotate(-45 301.84 380.50)" fill="#ff8c8c" stroke="#ff8c8c"/><ellipse cx="321.31" cy="380.50" rx="9.25" ry="5.70" transform="rotate(-45 321.31 380.50)" fill="#ff8c8c" stroke="#ff8c8c"/><ellipse cx="340.77" cy="380.50" rx="8.59" ry="6.65" transform="rotate(-45 340.77 380.50)" fill="#ffbfbf" stroke="#ffbfbf"/><ellipse cx="360.25" cy="380.50" rx="10.16" ry="3.84" transform="rotate(-45 360.25 380.50)" fill="#ff4040" stroke="#ff4040"/><ellipse cx="379.72" cy="380.50" rx="6.87" ry="8.41" transform="rotate(-45 379.72 380.50)" fill="#ccccff" stroke="#ccccff"/><ellipse cx="399.18" cy="380.50" rx="9.72" ry="4.86" transform="rotate(-45 399.18 380.50)" fill="#ff6666" stroke="#ff6666"/><ellipse cx="418.65" cy="380.50" rx="9.09" ry="5.95" transform="rotate(-45 418.65 380.50)" fill="#ff9999" stroke="#ff9999"/><line x1="430.43" y1="388.17" x2="445.82" y2="372.83" stroke="#c81e2a" stroke-width="1.35"/><ellipse cx="107.14" cy="399.90" rx="9.72" ry="4.86" transform="rotate(-45 107.14 399.90)" fill="#ff6666" stroke="#ff6666"/><ellipse cx="126.61" cy="399.90" rx="7.68" ry="7.68" transform="rotate(-45 126.61 399.90)" fill="#ffffff" stroke="#ffffff"/><ellipse cx="146.07" cy="399.90" rx="8.93" ry="6.19" transform="rotate(-45 146.07 399.90)" fill="#ffa6a6" stroke="#ffa6a6"/><ellipse cx="165.55" cy="399.90" rx="1.72" ry="10.73" transform="rotate(-45 165.55 399.90)" fill="#0d0dff" stroke="#0d0dff"/><ellipse cx="185.01" cy="399.90" rx="6.87" ry="8.41" transform="rotate(-45 185.01 399.90)" fill="#ccccff" stroke="#ccccff"/><ellipse cx="204.49" cy="399.90" rx="7.87" ry="7.49" transform="rotate(-45 204.49 399.90)" fill="#fff2f2" stroke="#fff2f2"/><ellipse cx="223.95" cy="399.90" rx="5.95" ry="9.09" transform="rotate(-45 223.95 399.90)" fill="#9999ff" stroke="#9999ff"/><ellipse cx="243.43" cy="399.90" rx="5.43" ry="9.41" transform="rotate(-45 243.43 399.90)" fill="#8080ff" stroke="#8080ff"/><ellipse cx="262.89" cy="399.90" rx="4.54" ry="9.87" transform="rotate(-45 262.89 399.90)" fill="#5959ff" stroke="#5959ff"/><ellipse cx="282.37" cy="399.90" rx="5.70" ry="9.25" transform="rotate(-45 282.37 399.90)" fill="#8c8cff" stroke="#8c8cff"/><ellipse cx="301.84" cy="399.90" rx="4.54" ry="9.87" transform="rotate(-45 301.84 399.90)" fill="#5959ff" stroke="#5959ff"/><ellipse cx="321.31" cy="399.90" rx="7.29" ry="8.06" transform="rotate(-45 321.31 399.90)" fill="#e6e6ff" stroke="#e6e6ff"/><ellipse cx="340.77" cy="399.90" rx="9.25" ry="5.70" transform="rotate(-45 340.77 399.90)" fill="#ff8c8c" stroke="#ff8c8c"/><ellipse cx="360.25" cy="399.90" rx="6.65" ry="8.59" transform="rotate(-45 360.25 399.90)" fill="#bfbfff" stroke="#bfbfff"/><ellipse cx="379.72" cy="399.90" rx="10.02" ry="4.21" transform="rotate(-45 379.72 399.90)" fill="#ff4d4d" stroke="#ff4d4d"/><ellipse cx="399.18" cy="399.90" rx="6.43" ry="8.76" transform="rotate(-45 399.18 399.90)" fill="#b2b2ff" stroke="#b2b2ff"/><ellipse cx="418.65" cy="399.90" rx="8.24" ry="7.08" transform="rotate(-45 418.65 399.90)" fill="#ffd9d9" stroke="#ffd9d9"/><ellipse cx="438.12" cy="399.90" rx="7.08" ry="8.24" transform="rotate(-45 438.12 399.90)" fill="#d9d9ff" stroke="#d9d9ff"/><line x1="449.90" y1="407.57" x2="465.29" y2="392.23" stroke="#c81e2a" stroke-width="1.35"/><ellipse cx="107.14" cy="419.30" rx="8.41" ry="6.87" transform="rotate(-45 107.14 419.30)" fill="#ffcccc" stroke="#ffcccc"/><ellipse cx="126.61" cy="419.30" rx="9.72" ry="4.86" transform="rotate(-45 126.61 419.30)" fill="#ff6666" stroke="#ff6666"/><ellipse cx="146.07" cy="419.30" rx="6.19" ry="8.93" transform="rotate(-45 146.07 419.30)" fill="#a6a6ff" stroke="#a6a6ff"/><ellipse cx="165.55" cy="419.30" rx="8.06" ry="7.29" transform="rotate(-45 165.55 419.30)" fill="#ffe6e6" stroke="#ffe6e6"/><ellipse cx="185.01" cy="419.30" rx="9.72" ry="4.86" transform="rotate(-45 185.01 419.30)" fill="#ff6666" stroke="#ff6666"/><ellipse cx="204.49" cy="419.30" rx="9.72" ry="4.86" transform="rotate(-45 204.49 419.30)" fill="#ff6666" stroke="#ff6666"/><ellipse cx="223.95" cy="419.30" rx="7.76" ry="7.60" transform="rotate(-45 223.95 419.30)" fill="#fffafa" stroke="#fffafa"/><ellipse cx="243.43" cy="419.30" rx="8.59" ry="6.65" transform="rotate(-45 243.43 419.30)" fill="#ffbfbf" stroke="#ffbfbf"/><ellipse cx="262.89" cy="419.30" rx="9.09" ry="5.95" transform="rotate(-45 262.89 419.30)" fill="#ff9999" stroke="#ff9999"/><ellipse cx="282.37" cy="419.30" rx="5.95" ry="9.09" transform="rotate(-45 282.37 419.30)" fill="#9999ff" stroke="#9999ff"/><ellipse cx="301.84" cy="419.30" rx="9.09" ry="5.95" transform="rotate(-45 301.84 419.30)" fill="#ff9999" stroke="#ff9999"/><ellipse cx="321.31" cy="419.30" rx="8.41" ry="6.87" transform="rotate(-45 321.31 419.30)" fill="#ffcccc" stroke="#ffcccc"/><ellipse cx="340.77" cy="419.30" rx="7.87" ry="7.49" transform="rotate(-45 340.77 419.30)" fill="#fff2f2" stroke="#fff2f2"/><ellipse cx="360.25" cy="419.30" rx="9.09" ry="5.95" transform="rotate(-45 360.25 419.30)" fill="#ff9999" stroke="#ff9999"/><ellipse cx="379.72" cy="419.30" rx="7.08" ry="8.24" transform="rotate(-45 379.72 419.30)" fill="#d9d9ff" stroke="#d9d9ff"/><ellipse cx="399.18" cy="419.30" rx="9.09" ry="5.95" transform="rotate(-45 399.18 419.30)" fill="#ff9999" stroke="#ff9999"/><ellipse cx="418.65" cy="419.30" rx="7.76" ry="7.60" transform="rotate(-45 418.65 419.30)" fill="#fffafa" stroke="#fffafa"/><ellipse cx="438.12" cy="419.30" rx="10.02" ry="4.21" transform="rotate(-45 438.12 419.30)" fill="#ff4d4d" stroke="#ff4d4d"/><ellipse cx="457.60" cy="419.30" rx="7.76" ry="7.60" transform="rotate(-45 457.60 419.30)" fill="#fffafa" stroke="#fffafa"/><line x1="469.37" y1="426.97" x2="484.76" y2="411.63" stroke="#c81e2a" stroke-width="1.35"/><ellipse cx="107.14" cy="438.70" rx="9.09" ry="5.95" transform="rotate(-45 107.14 438.70)" fill="#ff9999" stroke="#ff9999"/><ellipse cx="126.61" cy="438.70" rx="7.29" ry="8.06" transform="rotate(-45 126.61 438.70)" fill="#e6e6ff" stroke="#e6e6ff"/><ellipse cx="146.07" cy="438.70" rx="8.06" ry="7.29" transform="rotate(-45 146.07 438.70)" fill="#ffe6e6" stroke="#ffe6e6"/><ellipse cx="165.55" cy="438.70" rx="4.21" ry="10.02" transform="rotate(-45 165.55 438.70)" fill="#4d4dff" stroke="#4d4dff"/><ellipse cx="185.01" cy="438.70" rx="7.29" ry="8.06" transform="rotate(-45 185.01 438.70)" fill="#e6e6ff" stroke="#e6e6ff"/><ellipse cx="204.49" cy="438.70" rx="7.76" ry="7.60" transform="rotate(-45 204.49 438.70)" fill="#fffafa" stroke="#fffafa"/><ellipse cx="223.95" cy="438.70" rx="5.95" ry="9.09" transform="rotate(-45 223.95 438.70)" fill="#9999ff" stroke="#9999ff"/><ellipse cx="243.43" cy="438.70" rx="5.95" ry="9.09" transform="rotate(-45 243.43 438.70)" fill="#9999ff" stroke="#9999ff"/><ellipse cx="262.89" cy="438.70" rx="5.70" ry="9.25" transform="rotate(-45 262.89 438.70)" fill="#8c8cff" stroke="#8c8cff"/><ellipse cx="282.37" cy="438.70" rx="4.86" ry="9.72" transform="rotate(-45 282.37 438.70)" fill="#6666ff" stroke="#6666ff"/><ellipse cx="301.84" cy="438.70" rx="5.70" ry="9.25" transform="rotate(-45 301.84 438.70)" fill="#8c8cff" stroke="#8c8cff"/><ellipse cx="321.31" cy="438.70" rx="7.68" ry="7.68" transform="rotate(-45 321.31 438.70)" fill="#ffffff" stroke="#ffffff"/><ellipse cx="340.77" cy="438.70" rx="8.93" ry="6.19" transform="rotate(-45 340.77 438.70)" fill="#ffa6a6" stroke="#ffa6a6"/><ellipse cx="360.25" cy="438.70" rx="5.43" ry="9.41" transform="rotate(-45 360.25 438.70)" fill="#8080ff" stroke="#8080ff"/><ellipse cx="379.72" cy="438.70" rx="9.25" ry="5.70" transform="rotate(-45 379.72 438.70)" fill="#ff8c8c" stroke="#ff8c8c"/><ellipse cx="399.18" cy="438.70" rx="7.08" ry="8.24" transform="rotate(-45 399.18 438.70)" fill="#d9d9ff" stroke="#d9d9ff"/><ellipse cx="418.65" cy="438.70" rx="7.87" ry="7.49" transform="rotate(-45 418.65 438.70)" fill="#fff2f2" stroke="#fff2f2"/><ellipse cx="438.12" cy="438.70" rx="7.29" ry="8.06" transform="rotate(-45 438.12 438.70)" fill="#e6e6ff" stroke="#e6e6ff"/><ellipse cx="457.60" cy="438.70" rx="9.72" ry="4.86" transform="rotate(-45 457.60 438.70)" fill="#ff6666" stroke="#ff6666"/><ellipse cx="477.06" cy="438.70" rx="8.06" ry="7.29" transform="rotate(-45 477.06 438.70)" fill="#ffe6e6" stroke="#ffe6e6"/><line x1="488.84" y1="446.37" x2="504.23" y2="431.03" stroke="#c81e2a" stroke-width="1.35"/><ellipse cx="107.14" cy="458.10" rx="8.41" ry="6.87" transform="rotate(-45 107.14 458.10)" fill="#ffcccc" stroke="#ffcccc"/><ellipse cx="126.61" cy="458.10" rx="10.31" ry="3.44" transform="rotate(-45 126.61 458.10)" fill="#ff3333" stroke="#ff3333"/><ellipse cx="146.07" cy="458.10" rx="6.19" ry="8.93" transform="rotate(-45 146.07 458.10)" fill="#a6a6ff" stroke="#a6a6ff"/><ellipse cx="165.55" cy="458.10" rx="8.76" ry="6.43" transform="rotate(-45 165.55 458.10)" fill="#ffb2b2" stroke="#ffb2b2"/><ellipse cx="185.01" cy="458.10" rx="10.16" ry="3.84" transform="rotate(-45 185.01 458.10)" fill="#ff4040" stroke="#ff4040"/><ellipse cx="204.49" cy="458.10" rx="10.16" ry="3.84" transform="rotate(-45 204.49 458.10)" fill="#ff4040" stroke="#ff4040"/><ellipse cx="223.95" cy="458.10" rx="9.56" ry="5.15" transform="rotate(-45 223.95 458.10)" fill="#ff7373" stroke="#ff7373"/><ellipse cx="243.43" cy="458.10" rx="8.41" ry="6.87" transform="rotate(-45 243.43 458.10)" fill="#ffcccc" stroke="#ffcccc"/><ellipse cx="262.89" cy="458.10" rx="9.56" ry="5.15" transform="rotate(-45 262.89 458.10)" fill="#ff7373" stroke="#ff7373"/><ellipse cx="282.37" cy="458.10" rx="7.68" ry="7.68" transform="rotate(-45 282.37 458.10)" fill="#ffffff" stroke="#ffffff"/><ellipse cx="301.84" cy="458.10" rx="9.56" ry="5.15" transform="rotate(-45 301.84 458.10)" fill="#ff7373" stroke="#ff7373"/><ellipse cx="321.31" cy="458.10" rx="8.41" ry="6.87" transform="rotate(-45 321.31 458.10)" fill="#ffcccc" stroke="#ffcccc"/><ellipse cx="340.77" cy="458.10" rx="7.87" ry="7.49" transform="rotate(-45 340.77 458.10)" fill="#fff2f2" stroke="#fff2f2"/><ellipse cx="360.25" cy="458.10" rx="9.72" ry="4.86" transform="rotate(-45 360.25 458.10)" fill="#ff6666" stroke="#ff6666"/><ellipse cx="379.72" cy="458.10" rx="6.43" ry="8.76" transform="rotate(-45 379.72 458.10)" fill="#b2b2ff" stroke="#b2b2ff"/><ellipse cx="399.18" cy="458.10" rx="9.09" ry="5.95" transform="rotate(-45 399.18 458.10)" fill="#ff9999" stroke="#ff9999"/><ellipse cx="418.65" cy="458.10" rx="8.24" ry="7.08" transform="rotate(-45 418.65 458.10)" fill="#ffd9d9" stroke="#ffd9d9"/><ellipse cx="438.12" cy="458.10" rx="9.87" ry="4.54" transform="rotate(-45 438.12 458.10)" fill="#ff5959" stroke="#ff5959"/><ellipse cx="457.60" cy="458.10" rx="7.08" ry="8.24" transform="rotate(-45 457.60 458.10)" fill="#d9d9ff" stroke="#d9d9ff"/><ellipse cx="477.06" cy="458.10" rx="9.56" ry="5.15" transform="rotate(-45 477.06 458.10)" fill="#ff7373" stroke="#ff7373"/><ellipse cx="496.53" cy="458.10" rx="6.65" ry="8.59" transform="rotate(-45 496.53 458.10)" fill="#bfbfff" stroke="#bfbfff"/><line x1="508.31" y1="465.77" x2="523.70" y2="450.43" stroke="#c81e2a" stroke-width="1.35"/><ellipse cx="107.14" cy="477.50" rx="8.41" ry="6.87" transform="rotate(-45 107.14 477.50)" fill="#ffcccc" stroke="#ffcccc"/><ellipse cx="126.61" cy="477.50" rx="10.31" ry="3.44" transform="rotate(-45 126.61 477.50)" fill="#ff3333" stroke="#ff3333"/><ellipse cx="146.07" cy="477.50" rx="5.95" ry="9.09" transform="rotate(-45 146.07 477.50)" fill="#9999ff" stroke="#9999ff"/><ellipse cx="165.55" cy="477.50" rx="8.93" ry="6.19" transform="rotate(-45 165.55 477.50)" fill="#ffa6a6" stroke="#ffa6a6"/><ellipse cx="185.01" cy="477.50" rx="10.16" ry="3.84" transform="rotate(-45 185.01 477.50)" fill="#ff4040" stroke="#ff4040"/><ellipse cx="204.49" cy="477.50" rx="10.16" ry="3.84" transform="rotate(-45 204.49 477.50)" fill="#ff4040" stroke="#ff4040"/><ellipse cx="223.95" cy="477.50" rx="9.56" ry="5.15" transform="rotate(-45 223.95 477.50)" fill="#ff7373" stroke="#ff7373"/><ellipse cx="243.43" cy="477.50" rx="8.59" ry="6.65" transform="rotate(-45 243.43 477.50)" fill="#ffbfbf" stroke="#ffbfbf"/><ellipse cx="262.89" cy="477.50" rx="9.56" ry="5.15" transform="rotate(-45 262.89 477.50)" fill="#ff7373" stroke="#ff7373"/><ellipse cx="282.37" cy="477.50" rx="7.68" ry="7.68" transform="rotate(-45 282.37 477.50)" fill="#ffffff" stroke="#ffffff"/><ellipse cx="301.84" cy="477.50" rx="9.56" ry="5.15" transform="rotate(-45 301.84 477.50)" fill="#ff7373" stroke="#ff7373"/><ellipse cx="321.31" cy="477.50" rx="8.41" ry="6.87" transform="rotate(-45 321.31 477.50)" fill="#ffcccc" stroke="#ffcccc"/><ellipse cx="340.77" cy="477.50" rx="7.68" ry="7.68" transform="rotate(-45 340.77 477.50)" fill="#ffffff" stroke="#ffffff"/><ellipse cx="360.25" cy="477.50" rx="9.56" ry="5.15" transform="rotate(-45 360.25 477.50)" fill="#ff7373" stroke="#ff7373"/><ellipse cx="379.72" cy="477.50" rx="6.19" ry="8.93" transform="rotate(-45 379.72 477.50)" fill="#a6a6ff" stroke="#a6a6ff"/><ellipse cx="399.18" cy="477.50" rx="9.09" ry="5.95" transform="rotate(-45 399.18 477.50)" fill="#ff9999" stroke="#ff9999"/><ellipse cx="418.65" cy="477.50" rx="7.87" ry="7.49" transform="rotate(-45 418.65 477.50)" fill="#fff2f2" stroke="#fff2f2"/><ellipse cx="438.12" cy="477.50" rx="9.72" ry="4.86" transform="rotate(-45 438.12 477.50)" fill="#ff6666" stroke="#ff6666"/><ellipse cx="457.60" cy="477.50" rx="6.87" ry="8.41" transform="rotate(-45 457.60 477.50)" fill="#ccccff" stroke="#ccccff"/><ellipse cx="477.06" cy="477.50" rx="9.41" ry="5.43" transform="rotate(-45 477.06 477.50)" fill="#ff8080" stroke="#ff8080"/><ellipse cx="496.53" cy="477.50" rx="6.65" ry="8.59" transform="rotate(-45 496.53 477.50)" fill="#bfbfff" stroke="#bfbfff"/><ellipse cx="516.00" cy="477.50" rx="10.59" ry="2.43" transform="rotate(-45 516.00 477.50)" fill="#ff1919" stroke="#ff1919"/><line x1="527.78" y1="485.17" x2="543.17" y2="469.83" stroke="#c81e2a" stroke-width="1.35"/></g>
<g font-size="13" font-weight="bold" text-anchor="middle" fill="#000" letter-spacing="1.5"><text x="107.89" y="77.10">***</text><text x="127.36" y="96.50">**</text><text x="107.89" y="115.90">***</text><text x="146.82" y="115.90">***</text><text x="107.89" y="135.30">*</text><text x="127.36" y="135.30">***</text><text x="146.82" y="135.30">***</text><text x="166.30" y="135.30">*</text><text x="107.89" y="154.70">***</text><text x="127.36" y="154.70">***</text><text x="146.82" y="154.70">**</text><text x="185.76" y="154.70">***</text><text x="127.36" y="174.10">*</text><text x="166.30" y="174.10">**</text><text x="127.36" y="193.50">*</text><text x="146.82" y="193.50">***</text><text x="166.30" y="193.50">***</text><text x="185.76" y="193.50">***</text><text x="205.24" y="193.50">*</text><text x="127.36" y="212.90">***</text><text x="146.82" y="212.90">***</text><text x="166.30" y="212.90">***</text><text x="185.76" y="212.90">***</text><text x="205.24" y="212.90">***</text><text x="224.70" y="212.90">*</text><text x="244.18" y="212.90">***</text><text x="166.30" y="232.30">**</text><text x="224.70" y="232.30">*</text><text x="127.36" y="251.70">***</text><text x="146.82" y="251.70">***</text><text x="166.30" y="251.70">***</text><text x="185.76" y="251.70">***</text><text x="205.24" y="251.70">***</text><text x="224.70" y="251.70">**</text><text x="244.18" y="251.70">***</text><text x="263.64" y="251.70">***</text><text x="107.89" y="290.50">**</text><text x="166.30" y="290.50">**</text><text x="263.64" y="290.50">*</text><text x="322.06" y="290.50">***</text><text x="127.36" y="309.90">***</text><text x="185.76" y="309.90">*</text><text x="205.24" y="309.90">**</text><text x="244.18" y="309.90">**</text><text x="263.64" y="309.90">*</text><text x="283.12" y="309.90">**</text><text x="302.59" y="309.90">*</text><text x="322.06" y="309.90">***</text><text x="341.52" y="309.90">***</text><text x="146.82" y="329.30">***</text><text x="166.30" y="329.30">***</text><text x="185.76" y="329.30">*</text><text x="224.70" y="329.30">*</text><text x="244.18" y="329.30">**</text><text x="263.64" y="329.30">***</text><text x="283.12" y="329.30">*</text><text x="302.59" y="329.30">***</text><text x="341.52" y="329.30">**</text><text x="322.06" y="348.70">***</text><text x="341.52" y="348.70">***</text><text x="361.00" y="348.70">***</text><text x="107.89" y="368.10">**</text><text x="205.24" y="368.10">*</text><text x="283.12" y="368.10">*</text><text x="322.06" y="368.10">***</text><text x="341.52" y="368.10">***</text><text x="361.00" y="368.10">***</text><text x="399.93" y="368.10">***</text><text x="127.36" y="387.50">***</text><text x="185.76" y="387.50">***</text><text x="205.24" y="387.50">***</text><text x="224.70" y="387.50">*</text><text x="244.18" y="387.50">*</text><text x="263.64" y="387.50">**</text><text x="302.59" y="387.50">**</text><text x="322.06" y="387.50">**</text><text x="361.00" y="387.50">***</text><text x="399.93" y="387.50">***</text><text x="419.40" y="387.50">*</text><text x="107.89" y="406.90">***</text><text x="146.82" y="406.90">*</text><text x="166.30" y="406.90">***</text><text x="224.70" y="406.90">*</text><text x="244.18" y="406.90">***</text><text x="263.64" y="406.90">***</text><text x="283.12" y="406.90">**</text><text x="302.59" y="406.90">***</text><text x="341.52" y="406.90">**</text><text x="380.47" y="406.90">***</text><text x="127.36" y="426.30">***</text><text x="146.82" y="426.30">*</text><text x="185.76" y="426.30">***</text><text x="205.24" y="426.30">***</text><text x="263.64" y="426.30">*</text><text x="283.12" y="426.30">*</text><text x="302.59" y="426.30">*</text><text x="361.00" y="426.30">*</text><text x="399.93" y="426.30">*</text><text x="438.88" y="426.30">***</text><text x="107.89" y="445.70">**</text><text x="166.30" y="445.70">***</text><text x="224.70" y="445.70">*</text><text x="244.18" y="445.70">*</text><text x="263.64" y="445.70">**</text><text x="283.12" y="445.70">***</text><text x="302.59" y="445.70">**</text><text x="341.52" y="445.70">*</text><text x="361.00" y="445.70">*</text><text x="380.47" y="445.70">**</text><text x="458.35" y="445.70">***</text><text x="127.36" y="465.10">***</text><text x="185.76" y="465.10">***</text><text x="205.24" y="465.10">***</text><text x="224.70" y="465.10">***</text><text x="263.64" y="465.10">***</text><text x="302.59" y="465.10">***</text><text x="361.00" y="465.10">***</text><text x="399.93" y="465.10">*</text><text x="438.88" y="465.10">***</text><text x="477.81" y="465.10">***</text><text x="127.36" y="484.50">***</text><text x="146.82" y="484.50">*</text><text x="166.30" y="484.50">*</text><text x="185.76" y="484.50">***</text><text x="205.24" y="484.50">***</text><text x="224.70" y="484.50">***</text><text x="263.64" y="484.50">***</text><text x="302.59" y="484.50">***</text><text x="361.00" y="484.50">***</text><text x="399.93" y="484.50">*</text><text x="438.88" y="484.50">***</text><text x="477.81" y="484.50">***</text><text x="516.75" y="484.50">***</text></g>
<g font-size="13.75" fill="#000" stroke="#000" stroke-width="0.25"><text transform="translate(88.80,54.90) scale(1,1.06)" text-anchor="end">DOC</text><text transform="translate(88.80,74.30) scale(1,1.06)" text-anchor="end">LOI</text><text transform="translate(88.80,93.70) scale(1,1.06)" text-anchor="end">LOI.TC</text><text transform="translate(88.80,113.10) scale(1,1.06)" text-anchor="end">pH.H2O.</text><text transform="translate(88.80,132.50) scale(1,1.06)" text-anchor="end">Total.Carbon</text><text transform="translate(88.80,151.90) scale(1,1.06)" text-anchor="end">Total.Nitrogen</text><text transform="translate(88.80,171.30) scale(1,1.06)" text-anchor="end">Na</text><text transform="translate(88.80,190.70) scale(1,1.06)" text-anchor="end">K</text><text transform="translate(88.80,210.10) scale(1,1.06)" text-anchor="end">Ca</text><text transform="translate(88.80,229.50) scale(1,1.06)" text-anchor="end">Mg</text><text transform="translate(88.80,248.90) scale(1,1.06)" text-anchor="end">CEC</text><text transform="translate(88.80,268.30) scale(1,1.06)" text-anchor="end">CrTot</text><text transform="translate(88.80,287.70) scale(1,1.06)" text-anchor="end">CrH2O</text><text transform="translate(88.80,307.10) scale(1,1.06)" text-anchor="end">FeTot</text><text transform="translate(88.80,326.50) scale(1,1.06)" text-anchor="end">FeH2O</text><text transform="translate(88.80,345.90) scale(1,1.06)" text-anchor="end">NiTot</text><text transform="translate(88.80,365.30) scale(1,1.06)" text-anchor="end">NiH2O</text><text transform="translate(88.80,384.70) scale(1,1.06)" text-anchor="end">ZnTot</text><text transform="translate(88.80,404.10) scale(1,1.06)" text-anchor="end">ZnH2O</text><text transform="translate(88.80,423.50) scale(1,1.06)" text-anchor="end">CdTot</text><text transform="translate(88.80,442.90) scale(1,1.06)" text-anchor="end">CdH2O</text><text transform="translate(88.80,462.30) scale(1,1.06)" text-anchor="end">SeTot</text><text transform="translate(88.80,481.70) scale(1,1.06)" text-anchor="end">SeH2O</text><text transform="translate(112.73,35.30) rotate(-90) scale(1,1.06)">DOC</text><text transform="translate(132.21,54.70) rotate(-90) scale(1,1.06)">LOI</text><text transform="translate(151.67,74.10) rotate(-90) scale(1,1.06)">LOI.TC</text><text transform="translate(171.15,93.50) rotate(-90) scale(1,1.06)">pH.H2O.</text><text transform="translate(190.61,112.90) rotate(-90) scale(1,1.06)">Total.Carbon</text><text transform="translate(210.09,132.30) rotate(-90) scale(1,1.06)">Total.Nitrogen</text><text transform="translate(229.55,151.70) rotate(-90) scale(1,1.06)">Na</text><text transform="translate(249.03,171.10) rotate(-90) scale(1,1.06)">K</text><text transform="translate(268.50,190.50) rotate(-90) scale(1,1.06)">Ca</text><text transform="translate(287.97,209.90) rotate(-90) scale(1,1.06)">Mg</text><text transform="translate(307.44,229.30) rotate(-90) scale(1,1.06)">CEC</text><text transform="translate(326.91,248.70) rotate(-90) scale(1,1.06)">CrTot</text><text transform="translate(346.38,268.10) rotate(-90) scale(1,1.06)">CrH2O</text><text transform="translate(365.85,287.50) rotate(-90) scale(1,1.06)">FeTot</text><text transform="translate(385.32,306.90) rotate(-90) scale(1,1.06)">FeH2O</text><text transform="translate(404.78,326.30) rotate(-90) scale(1,1.06)">NiTot</text><text transform="translate(424.25,345.70) rotate(-90) scale(1,1.06)">NiH2O</text><text transform="translate(443.73,365.10) rotate(-90) scale(1,1.06)">ZnTot</text><text transform="translate(463.20,384.50) rotate(-90) scale(1,1.06)">ZnH2O</text><text transform="translate(482.66,403.90) rotate(-90) scale(1,1.06)">CdTot</text><text transform="translate(502.13,423.30) rotate(-90) scale(1,1.06)">CdH2O</text><text transform="translate(521.61,442.70) rotate(-90) scale(1,1.06)">SeTot</text><text transform="translate(541.08,462.10) rotate(-90) scale(1,1.06)">SeH2O</text></g>
<defs><linearGradient id="cb" x1="0" x2="1" y1="0" y2="0"><stop offset="0" stop-color="#0000ff"/><stop offset="0.5" stop-color="#ffffff"/><stop offset="1" stop-color="#ff0000"/></linearGradient></defs>
<rect x="97.40" y="496.40" width="447.81" height="16.40" fill="url(#cb)" stroke="#222" stroke-width="1"/>
<g stroke="#222" stroke-width="1"><line x1="97.40" y1="512.80" x2="97.40" y2="516.30"/><line x1="142.18" y1="512.80" x2="142.18" y2="516.30"/><line x1="186.96" y1="512.80" x2="186.96" y2="516.30"/><line x1="231.74" y1="512.80" x2="231.74" y2="516.30"/><line x1="276.52" y1="512.80" x2="276.52" y2="516.30"/><line x1="321.30" y1="512.80" x2="321.30" y2="516.30"/><line x1="366.09" y1="512.80" x2="366.09" y2="516.30"/><line x1="410.87" y1="512.80" x2="410.87" y2="516.30"/><line x1="455.65" y1="512.80" x2="455.65" y2="516.30"/><line x1="500.43" y1="512.80" x2="500.43" y2="516.30"/><line x1="545.21" y1="512.80" x2="545.21" y2="516.30"/></g>
<g font-size="13" text-anchor="middle" fill="#000" stroke="#000" stroke-width="0.25"><text transform="translate(97.40,539.20) scale(1,1.06)">-1</text><text transform="translate(142.18,539.20) scale(1,1.06)">-0.8</text><text transform="translate(186.96,539.20) scale(1,1.06)">-0.6</text><text transform="translate(231.74,539.20) scale(1,1.06)">-0.4</text><text transform="translate(276.52,539.20) scale(1,1.06)">-0.2</text><text transform="translate(321.30,539.20) scale(1,1.06)">0</text><text transform="translate(366.09,539.20) scale(1,1.06)">0.2</text><text transform="translate(410.87,539.20) scale(1,1.06)">0.4</text><text transform="translate(455.65,539.20) scale(1,1.06)">0.6</text><text transform="translate(500.43,539.20) scale(1,1.06)">0.8</text><text transform="translate(545.21,539.20) scale(1,1.06)">1</text></g>
</svg></body></html>
